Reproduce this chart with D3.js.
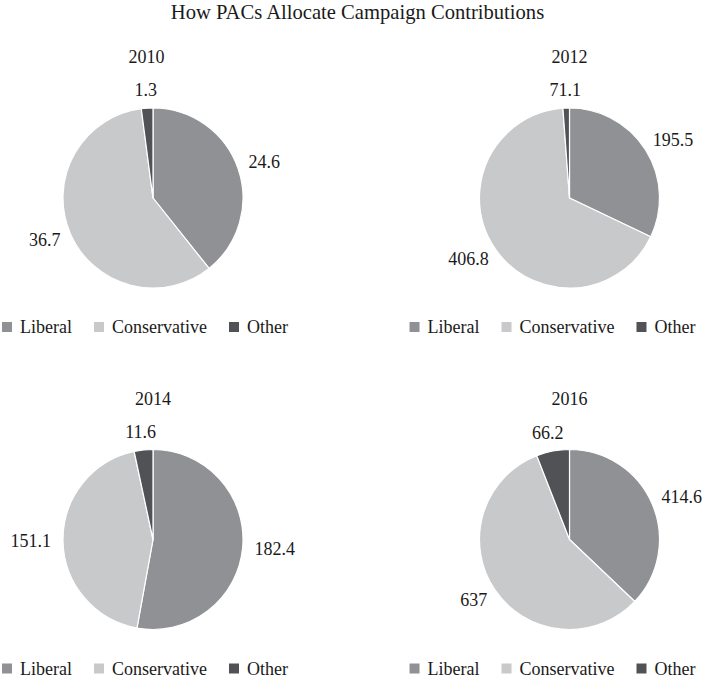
<!DOCTYPE html>
<html>
<head>
<meta charset="utf-8">
<script src="https://cdn.jsdelivr.net/npm/d3@7"></script>
<style>
  html, body { margin: 0; padding: 0; background: #fff; }
  svg { display: block; }
  text { font-family: "Liberation Serif", "Times New Roman", serif; fill: #1a1a1a; }
</style>
</head>
<body>
<svg id="chart" width="703" height="678"></svg>
<script>
// ---- data ----
const chartTitle = "How PACs Allocate Campaign Contributions";
const years = ["2010", "2012", "2014", "2016"];
const categories = ["Liberal", "Conservative", "Other"];
const liberal = [24.6, 195.5, 182.4, 414.6];
const conservative = [36.7, 406.8, 151.1, 637];
const other = [1.3, 7.1, 11.6, 66.2];
// printed labels as they appear on the chart
const liberalLabels = ["24.6", "195.5", "182.4", "414.6"];
const conservativeLabels = ["36.7", "406.8", "151.1", "637"];
const otherLabels = ["1.3", "71.1", "11.6", "66.2"];

// ---- layout ----
const W = 703, H = 678;
const colors = ["#909194", "#c8c9cb", "#515256"];
const colX = [153, 569.5];
const rowY = [198, 539.5];
const R = 90;
const titleDy = -141;   // panel title relative to pie centre
const titleShift = [-6.5, 0, 0, 0];
const legendDy = 129;   // legend relative to pie centre
const legendShift = [-8, -17];

const svg = d3.select("#chart");

svg.append("text")
  .attr("x", W / 2 + 6)
  .attr("y", 12)
  .attr("text-anchor", "middle")
  .attr("dominant-baseline", "central")
  .style("font-size", "20.6px")
  .text(chartTitle);

const color = d3.scaleOrdinal().domain(categories).range(colors);
const pie = d3.pie().sort(null).value(d => d.value);
const arc = d3.arc().innerRadius(0).outerRadius(R);

years.forEach((yr, i) => {
  const cx = colX[i % 2], cy = rowY[Math.floor(i / 2)];
  const rows = [
    { cat: categories[0], value: liberal[i], label: liberalLabels[i] },
    { cat: categories[1], value: conservative[i], label: conservativeLabels[i] },
    { cat: categories[2], value: other[i], label: otherLabels[i] }
  ];
  const g = svg.append("g").attr("transform", `translate(${cx},${cy})`);

  g.append("text")
    .attr("x", titleShift[i]).attr("y", titleDy)
    .attr("text-anchor", "middle")
    .attr("dominant-baseline", "central")
    .style("font-size", "18px")
    .text(yr);

  const arcs = pie(rows);
  g.selectAll("path.slice").data(arcs).enter().append("path")
    .attr("class", "slice")
    .attr("d", arc)
    .attr("fill", d => color(d.data.cat))
    .attr("stroke", "#ffffff")
    .attr("stroke-width", 1.2)
    .attr("stroke-linejoin", "round");

  // labels outside
  arcs.forEach(d => {
    const a = (d.startAngle + d.endAngle) / 2;
    const ux = Math.sin(a), uy = -Math.cos(a);
    const t = g.append("text")
      .attr("text-anchor", "middle")
      .attr("dominant-baseline", "central")
      .style("font-size", "18px")
      .text(d.data.label);
    const w = t.node().getComputedTextLength();
    const h = 13;
    const rr = R + 12;
    t.attr("x", rr * ux + (w / 2) * ux)
     .attr("y", rr * uy + (h / 2) * uy);
  });

  // legend
  const lg = g.append("g").attr("transform", `translate(0,${legendDy})`);
  const items = [];
  let xpos = 0;
  categories.forEach((c, k) => {
    const it = lg.append("g");
    it.append("rect").attr("x", 0).attr("y", -5).attr("width", 10).attr("height", 10)
      .attr("fill", color(c));
    const tx = it.append("text").attr("x", 18).attr("y", 0)
      .attr("dominant-baseline", "central")
      .style("font-size", "18px").text(c);
    const w = 18 + tx.node().getComputedTextLength();
    items.push({ it, x: xpos });
    xpos += w + (k < categories.length - 1 ? 22 : 0);
  });
  const start = legendShift[i % 2] - xpos / 2;
  items.forEach(o => o.it.attr("transform", `translate(${start + o.x},0)`));
});
</script>
</body>
</html>
